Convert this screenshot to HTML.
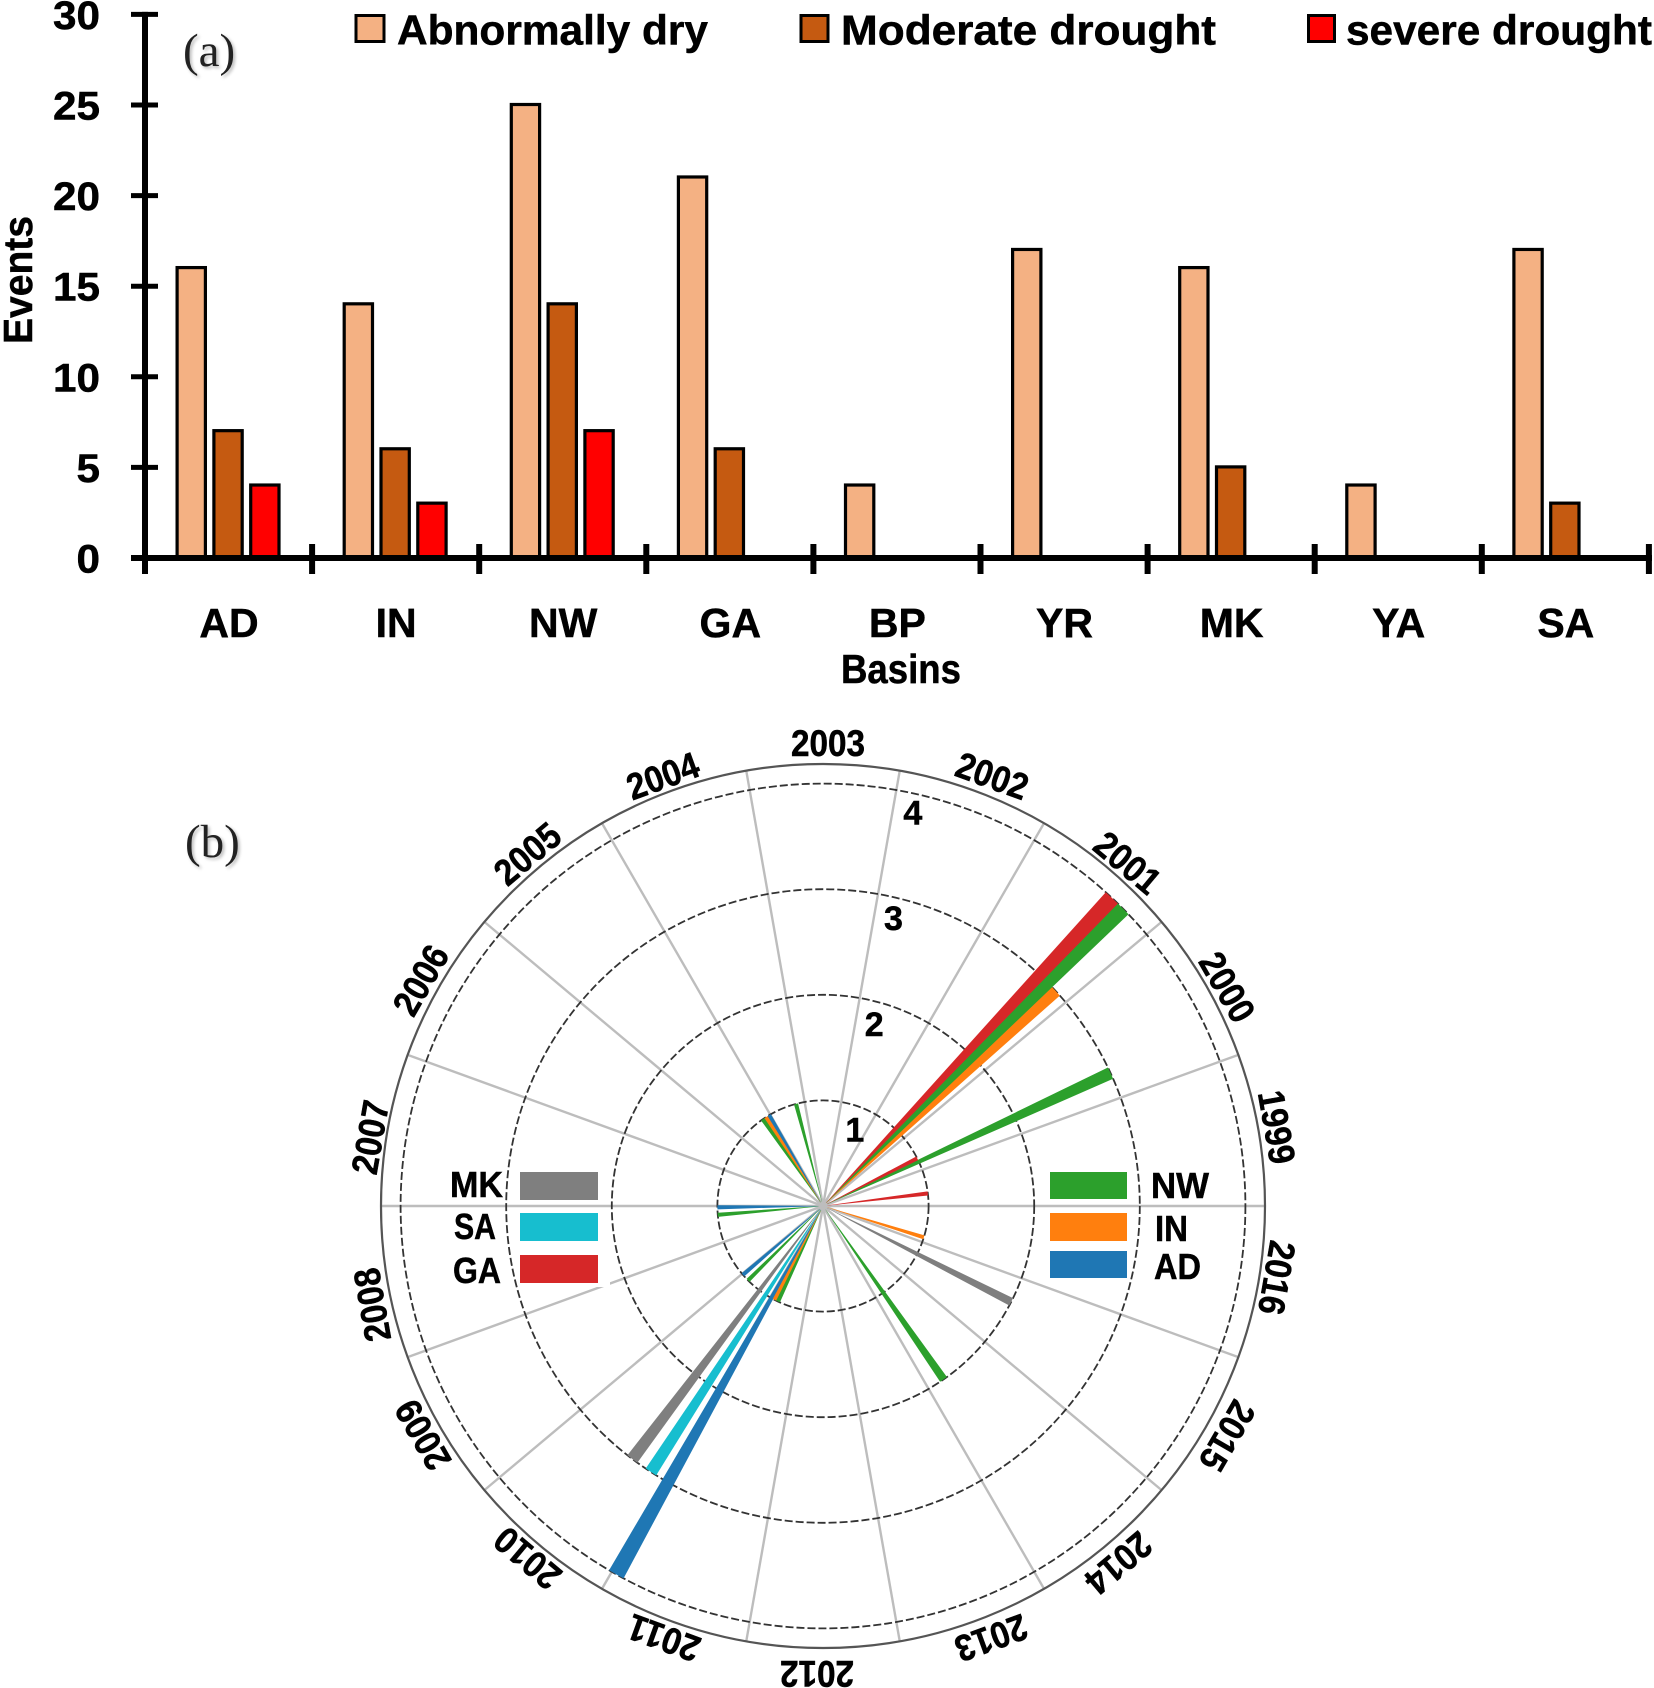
<!DOCTYPE html>
<html lang="en">
<head>
<meta charset="utf-8">
<title>Drought events by basin and year</title>
<style>
html,body{margin:0;padding:0;background:#fff;}
svg{display:block;}
text{font-family:"Liberation Sans",sans-serif;font-weight:bold;fill:#000;stroke:#000;stroke-width:0.5px;}
text.serif{font-family:"Liberation Serif",serif;font-weight:normal;fill:#222;stroke:none;font-size:47px;text-shadow:2px 2px 3px #bbb;}
</style>
</head>
<body>
<svg id="figure" xmlns="http://www.w3.org/2000/svg" width="1654" height="1688" viewBox="0 0 1654 1688">
  <rect width="1654" height="1688" fill="#fff"/>

  <g id="barPanel"></g>
  <text class="serif" x="183" y="66">(a)</text>
  <text transform="translate(32,280) rotate(-90)" text-anchor="middle" font-size="41" textLength="128" lengthAdjust="spacingAndGlyphs">Events</text>
  <text x="841" y="683" font-size="41" textLength="120" lengthAdjust="spacingAndGlyphs">Basins</text>

  <g>
    <rect x="356" y="15.5" width="28" height="26" fill="#F4B183" stroke="#000" stroke-width="3"/>
    <text x="397" y="44.5" font-size="42" textLength="311" lengthAdjust="spacingAndGlyphs">Abnormally dry</text>
    <rect x="801" y="15.5" width="27" height="26" fill="#C55A11" stroke="#000" stroke-width="3"/>
    <text x="841" y="44.5" font-size="42" textLength="375" lengthAdjust="spacingAndGlyphs">Moderate drought</text>
    <rect x="1308.5" y="15.5" width="26" height="26" fill="#FF0000" stroke="#000" stroke-width="3"/>
    <text x="1346" y="44.5" font-size="42" textLength="306" lengthAdjust="spacingAndGlyphs">severe drought</text>
  </g>

  <g id="polarPanel"></g>
  <text class="serif" x="185" y="857">(b)</text>

  <g>
    <rect x="520" y="1250" width="90" height="37" fill="#fff"/>
    <rect x="520" y="1172" width="78" height="28" fill="#7f7f7f"/>
    <rect x="520" y="1213" width="78" height="28" fill="#17becf"/>
    <rect x="520" y="1255" width="78" height="28" fill="#d62728"/>
    <text x="450" y="1197" font-size="36" textLength="53" lengthAdjust="spacingAndGlyphs">MK</text>
    <text x="454" y="1239" font-size="36" textLength="42" lengthAdjust="spacingAndGlyphs">SA</text>
    <text x="453" y="1283" font-size="36" textLength="48" lengthAdjust="spacingAndGlyphs">GA</text>
  </g>
  <g>
    <rect x="1050" y="1172" width="77" height="27" fill="#2ca02c"/>
    <rect x="1050" y="1213" width="77" height="28" fill="#ff7f0e"/>
    <rect x="1050" y="1251" width="77" height="27" fill="#1f77b4"/>
    <text x="1151" y="1198" font-size="36" textLength="58" lengthAdjust="spacingAndGlyphs">NW</text>
    <text x="1155" y="1241" font-size="36" textLength="33" lengthAdjust="spacingAndGlyphs">IN</text>
    <text x="1154" y="1279" font-size="36" textLength="47" lengthAdjust="spacingAndGlyphs">AD</text>
  </g>
</svg>

<script>
/* ---------- Panel (a) data ---------- */
const barCategories = ['AD','IN','NW','GA','BP','YR','MK','YA','SA'];
const abnormallyDry = [16,14,25,21,4,17,16,4,17];
const moderateDrought = [7,6,14,6,0,0,5,0,3];
const severeDrought = [4,3,7,0,0,0,0,0,0];
const yTickLabels = [0,5,10,15,20,25,30];

/* ---------- Panel (b) data ---------- */
const years = [1999,2000,2001,2002,2003,2004,2005,2006,2007,2008,2009,2010,2011,2012,2013,2014,2015,2016];
const basinOrder = ['AD','IN','NW','GA','BP','YR','MK','YA','SA'];
const eventsAD = [0,0,0,0,0,0,1,0,0,1,0,1,4,0,0,0,0,0];
const eventsIN = [0,0,3,0,0,0,1,0,0,0,0,0,1,0,0,0,0,1];
const eventsNW = [0,3,4,0,0,1,1,0,0,1,0,1,1,0,0,2,0,0];
const eventsGA = [1,1,4,0,0,0,0,0,0,0,0,0,0,0,0,0,0,0];
const eventsMK = [0,0,0,0,0,0,0,0,0,0,0,3,0,0,0,0,2,0];
const eventsSA = [0,0,0,0,0,0,0,0,0,0,0,3,0,0,0,0,0,0];
const radialTicks = [1,2,3,4];

const NS = 'http://www.w3.org/2000/svg';
function make(parent, tag, attrs, content) {
  const el = document.createElementNS(NS, tag);
  Object.keys(attrs).forEach(function (k) { el.setAttribute(k, attrs[k]); });
  if (content !== undefined) el.textContent = content;
  parent.appendChild(el);
  return el;
}

/* ---------- Bar chart ---------- */
(function () {
  const g = document.getElementById('barPanel');
  const y0 = 558, unit = 18.12, x0 = 145, step = 167.1;
  const yScale = function (v) { return y0 - unit * v; };
  const xBand = function (i) { return x0 + step * i; };
  const barPitch = 36.8, barOuter = 31.5, groupPad = 30.5, sw = 3.2;

  const seriesList = [
    { key: 'abnormally-dry', values: abnormallyDry, color: '#F4B183' },
    { key: 'moderate-drought', values: moderateDrought, color: '#C55A11' },
    { key: 'severe-drought', values: severeDrought, color: '#FF0000' }
  ];

  seriesList.forEach(function (s, si) {
    s.values.forEach(function (v, i) {
      if (!v) return;
      const x = xBand(i) + groupPad + si * barPitch + sw / 2;
      const top = yScale(v) - 0.5;
      const bar = make(g, 'rect', {
        x: x, y: top, width: barOuter - sw,
        height: y0 - top, fill: s.color, stroke: '#000', 'stroke-width': sw
      });
      
      
    });
  });

  const yAxis = make(g, 'line', { x1: x0, x2: x0, y1: yScale(30) - 2.5, y2: y0 + 16, stroke: '#000', 'stroke-width': 6 });
  
  

  const xAxis = make(g, 'line', { x1: 131, x2: 1652, y1: y0, y2: y0, stroke: '#000', 'stroke-width': 6 });
  
  

  yTickLabels.forEach(function (t) {
    const yy = yScale(t);
    const tick = make(g, 'line', { x1: 131, x2: 158, y1: yy, y2: yy, stroke: '#000', 'stroke-width': 5 });
    
    
    const label = String(t);
    const lab = make(g, 'text', {
      x: 100, y: yy + 14.5, 'text-anchor': 'end', 'font-size': 40,
      textLength: label.length * 23.5, lengthAdjust: 'spacingAndGlyphs'
    }, label);
    
    
  });

  for (let i = 0; i <= barCategories.length; i++) {
    const tick = make(g, 'line', { x1: xBand(i), x2: xBand(i), y1: 544, y2: 574, stroke: '#000', 'stroke-width': 6 });
    
    
  }

  barCategories.forEach(function (c, i) {
    const lab = make(g, 'text', { x: xBand(i) + 84, y: 637, 'text-anchor': 'middle', 'font-size': 41 }, c);
    
    
  });
})();

/* ---------- Polar chart ---------- */
(function () {
  const g = document.getElementById('polarPanel');
  const cx = 823, cy = 1206, ringStep = 105.6, outerR = 442, labelR = 460;
  const sectorDeg = 360 / years.length;
  const barDeg = 2.05, barPad = 0.7, barDrawn = 2.25;
  const rScale = function (v) { return v * ringStep; };
  const px = function (r, deg) { return cx + r * Math.cos(deg * Math.PI / 180); };
  const py = function (r, deg) { return cy - r * Math.sin(deg * Math.PI / 180); };

  /* hand-placement nudges for the year labels, which sit unevenly around the rim */
  const nudgeX = [1,6,9,12,5,-3,0,-4,0,2,-2,0,-2,-6,11,0,6,1];
  const nudgeY = [1,11,9,2,-3,2,0,4,11,19,-1,0,0,8,0,5,0,-8];

  years.forEach(function (yr, i) {
    const a = i * sectorDeg;
    const spoke = make(g, 'line', {
      x1: cx, y1: cy, x2: px(outerR, a), y2: py(outerR, a), stroke: '#bdbdbd', 'stroke-width': 2.4
    });
    
    
  });

  radialTicks.forEach(function (t) {
    const ring = make(g, 'circle', {
      cx: cx, cy: cy, r: rScale(t), fill: 'none', stroke: '#333', 'stroke-width': 1.8, 'stroke-dasharray': '8 3'
    });
    
    
  });

  const outer = make(g, 'circle', { cx: cx, cy: cy, r: outerR, fill: 'none', stroke: '#555', 'stroke-width': 2.2 });
  
  

  const polarSeries = [
    { basin: 'AD', values: eventsAD, color: '#1f77b4' },
    { basin: 'IN', values: eventsIN, color: '#ff7f0e' },
    { basin: 'NW', values: eventsNW, color: '#2ca02c' },
    { basin: 'GA', values: eventsGA, color: '#d62728' },
    { basin: 'MK', values: eventsMK, color: '#7f7f7f' },
    { basin: 'SA', values: eventsSA, color: '#17becf' }
  ];

  polarSeries.forEach(function (s) {
    const idx = basinOrder.indexOf(s.basin);
    s.values.forEach(function (v, i) {
      if (!v) return;
      const mid = i * sectorDeg + barPad + idx * barDeg;
      const a0 = mid - barDrawn / 2;
      const a1 = mid + barDrawn / 2;
      const r = rScale(v);
      const d = 'M' + cx + ' ' + cy + ' L' + px(r, a0) + ' ' + py(r, a0) +
        ' A' + r + ' ' + r + ' 0 0 0 ' + px(r, a1) + ' ' + py(r, a1) + ' Z';
      const wedge = make(g, 'path', { d: d, fill: s.color });
      
      
    });
  });

  const hub = make(g, 'circle', { cx: cx, cy: cy, r: 4.5, fill: '#bdbdbd' });
  
  

  years.forEach(function (yr, i) {
    const a = i * sectorDeg + sectorDeg / 2;
    const tx = px(labelR, a) + nudgeX[i];
    const ty = py(labelR, a) + nudgeY[i];
    const lab = make(g, 'text', {
      transform: 'translate(' + tx + ',' + ty + ') rotate(' + (90 - a) + ')',
      'text-anchor': 'middle', y: 13, 'font-size': 37, textLength: 74, lengthAdjust: 'spacingAndGlyphs'
    }, String(yr));
    
    
  });

  radialTicks.forEach(function (t) {
    const r = rScale(t);
    const lab = make(g, 'text', {
      x: 835.5 + r * 0.183, y: 1235 - r + 12, 'text-anchor': 'middle', 'font-size': 34
    }, String(t));
    
    
  });
})();
</script>
</body>
</html>
